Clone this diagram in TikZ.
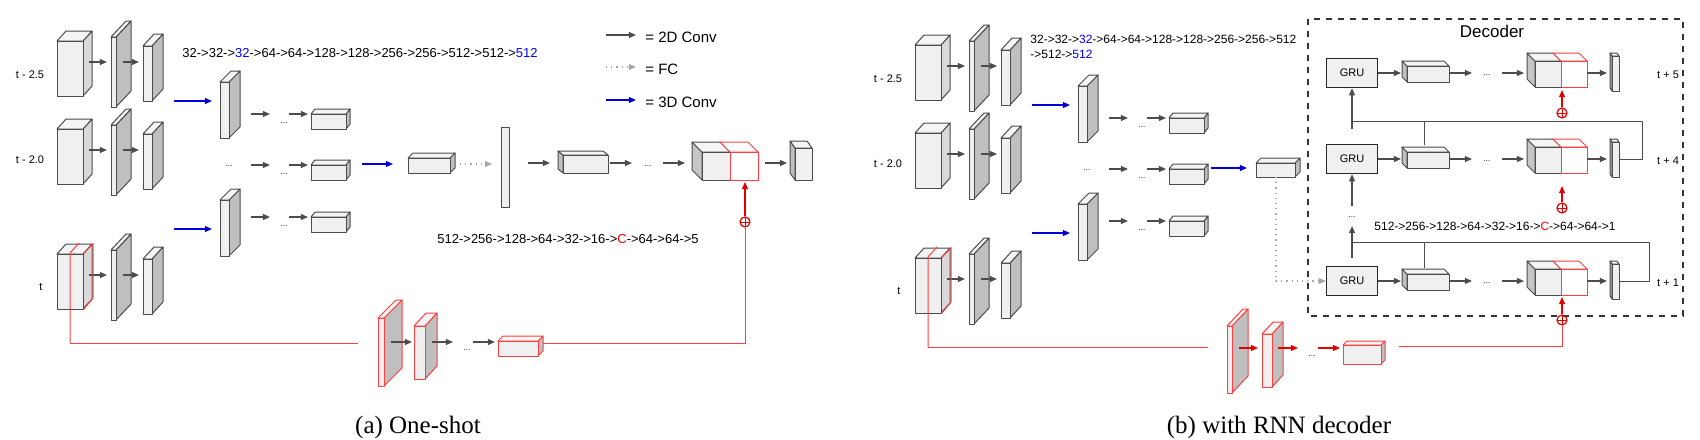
\documentclass[tikz,border=0pt]{standalone}
\usepackage{fontspec}
\setmainfont{Liberation Serif}
\setsansfont{Liberation Sans}
\usetikzlibrary{arrows.meta}
\colorlet{cubefront}{gray!12}
\colorlet{cubetop}{gray!8}
\colorlet{cubeside}{gray!50}
\colorlet{edge}{gray!60!black}
\colorlet{skip}{red!90!black}
\tikzset{
  cube/.style={draw=edge, line width=0.5pt, line join=round},
  red cube/.style={draw=red!75, line width=0.5pt},
  ar/.style={draw=edge, line width=0.6pt, -{Triangle[length=3.6pt,width=3pt]}},
  fc/.style={ar, dotted, draw=gray!70},
  conv3/.style={ar, draw=blue!85!black, -{Triangle[length=3.6pt,width=3pt,fill=blue!85!black]}},
  redar/.style={ar, draw=skip, -{Triangle[length=3.6pt,width=3pt,fill=skip]}},
  redline/.style={draw=red!75, line width=0.5pt},
  txt/.style={font=\sffamily\fontsize{6.5}{7}\selectfont, inner sep=0pt},
  lbl/.style={font=\sffamily\fontsize{5.5}{6}\selectfont, inner sep=0pt},
  dots/.style={font=\sffamily\fontsize{4}{4}\selectfont, inner sep=0pt},
  gru/.style={draw=gray!30!black, fill=gray!12, line width=0.7pt, minimum width=25.5pt,
    minimum height=14.5pt, inner sep=0pt, font=\sffamily\fontsize{5.5}{6}\selectfont},
  plus/.style={circle, draw=skip, line width=0.6pt, minimum size=5pt, inner sep=0pt,
    path picture={\draw[skip, line width=0.5pt] (path picture bounding box.north) -- (path picture bounding box.south)
      (path picture bounding box.west) -- (path picture bounding box.east);}},
}
% cuboid, side face to the right: [style]{x}{y}{w}{h}{dx}{dy}, (x,y) = front top left
\newcommand\cubR[7][]{%
  \draw[cube,#1,fill=cubeside] (#2+#4,#3) -- ++(#6,-#7) -- ++(0,#5) -- ++(-#6,#7) -- cycle;
  \draw[cube,#1,fill=cubetop] (#2,#3) -- ++(#6,-#7) -- ++(#4,0) -- ++(-#6,#7) -- cycle;
  \draw[cube,#1,fill=cubefront] (#2,#3) rectangle ++(#4,#5);}
% cuboid, side face to the left
\newcommand\cubL[7][]{%
  \draw[cube,#1,fill=cubeside] (#2,#3) -- ++(-#6,-#7) -- ++(0,#5) -- ++(#6,#7) -- cycle;
  \draw[cube,#1,fill=cubetop] (#2,#3) -- ++(-#6,-#7) -- ++(#4,0) -- ++(#6,#7) -- cycle;
  \draw[cube,#1,fill=cubefront] (#2,#3) rectangle ++(#4,#5);}
% one input row of the encoder, #1 = vertical offset
\newcommand\encrow[1]{%
  {\colorlet{cubeside}{gray!30}\cubR{57}{41+#1}{26}{55}{9}{10}}
  \cubR{111}{37+#1}{5}{70}{15}{16}
  \cubR{143}{46+#1}{9}{55}{11}{12}
  \draw[ar] (89,62+#1) -- (107,62+#1);
  \draw[ar] (123,62+#1) -- (139,62+#1);}
% small branch row, #1 = y of the arrows
\newcommand\encbranch[1]{%
  \draw[ar] (251,#1) -- (270,#1);
  \draw[ar] (289,#1) -- (308,#1);
  \node[dots] at (284,#1+9) {...};
  \cubR{311}{#1}{35}{15}{4}{5}}
% encoder part common to both panels
\newcommand\encoder{%
  \encrow{0}\encrow{88}\encrow{213}
  \node[lbl] at (30,75) {t - 2.5};
  \node[lbl] at (30,160) {t - 2.0};
  \node[lbl] at (41,287) {t};
  % red marks on the current frame
  \draw[red cube] (84,253) -- (93,244) -- (93,298) -- (84,309);
  \draw[redline] (79,243) -- (70,253) -- (70,343);
  \cubR{220}{82}{9}{56}{11}{11}
  \cubR{220}{200}{9}{56}{11}{11}
  \draw[conv3] (174,101) -- (212,101);
  \draw[conv3] (174,229) -- (212,229);
  \encbranch{114}\encbranch{165}\encbranch{217}
  \node[dots] at (229,166) {...};}
% concatenated block: gray part with left face, red part; #1 = x, #2 = y of front top left, #3 size, #4 depth
\newcommand\concat[4]{%
  {\colorlet{cubeside}{gray!45}\cubL{#1}{#2}{#3}{#3}{#4}{#4}}
  \draw[red cube, fill=white] (#1+#3,#2) -- ++(-#4,-#4) -- ++(#3,0) -- ++(#4,#4) -- cycle;
  \draw[red cube, fill=white] (#1+#3,#2) rectangle ++(#3,#3);}
\begin{document}
\begin{tikzpicture}[x=0.5pt, y=-0.5pt]
\useasboundingbox (0,0) rectangle (1700,439);
%% ---------------- (a) One-shot ----------------
\encoder
\node[txt, anchor=west] at (182,53) {32->32->\textcolor{blue}{32}->64->64->128->128->256->256->512->512->\textcolor{blue}{512}};
% legend
\draw[ar] (606,35) -- (636,35);
\draw[fc] (606,67) -- (636,67);
\draw[conv3] (606,100) -- (636,100);
\node[txt, anchor=west, font=\sffamily\fontsize{7.5}{8}\selectfont] at (645,37) {= 2D Conv};
\node[txt, anchor=west, font=\sffamily\fontsize{7.5}{8}\selectfont] at (645,69) {= FC};
\node[txt, anchor=west, font=\sffamily\fontsize{7.5}{8}\selectfont] at (645,102) {= 3D Conv};
% fusion and head
\draw[conv3] (362,164) -- (393,164);
\cubR{408}{158}{42}{15}{5}{5}
\draw[fc] (460,164) -- (492,164);
\draw[cube, fill=cubefront] (501,127) rectangle (509,207);
\draw[ar] (528,163) -- (550,163);
\cubL{563}{155}{45}{18}{5}{4}
\draw[ar] (610,163) -- (632,163);
\node[dots] at (648,166) {...};
\draw[ar] (663,163) -- (685,163);
\concat{702}{152}{28}{10}
\draw[ar] (765,163) -- (787,163);
\cubL{795}{148}{17}{32}{5}{7}
\node[txt, anchor=west] at (437,239) {512->256->128->64->32->16->\textcolor{red}{C}->64->64->5};
% skip branch
\draw[redline] (70,343) -- (358,343);
\cubR[red cube]{378}{318}{6}{68}{18}{18}
\cubR[red cube]{414}{326}{11}{53}{12}{13}
\draw[ar] (391,342) -- (412,342);
\draw[ar] (432,342) -- (453,342);
\node[dots] at (467,350) {...};
\draw[ar] (473,342) -- (495,342);
\cubR[red cube]{498}{341}{40}{15}{5}{5}
\node[plus] (pa) at (745,222) {};
\draw[redline] (543,343) -- (745,343) -- (pa.south);
\draw[redar] (pa.north) -- (745,182);
\node[font=\fontsize{12.5}{14}\selectfont] at (418,427) {(a) One-shot};
%% ---------------- (b) with RNN decoder ----------------
\begin{scope}[shift={(858,4)}]
\encoder
\end{scope}
\node[txt, anchor=west, font=\sffamily\fontsize{6}{7}\selectfont] at (1030,39) {32->32->\textcolor{blue}{32}->64->64->128->128->256->256->512};
\node[txt, anchor=west, font=\sffamily\fontsize{6}{7}\selectfont] at (1030,54) {->512->\textcolor{blue}{512}};
\draw[conv3] (1211,168) -- (1247,168);
\cubR{1256}{163}{39}{14}{5}{5}
% decoder
\draw[dashed, line width=0.6pt, draw=gray!40!black] (1308,19) rectangle (1683,316);
\node[font=\sffamily\fontsize{8.5}{9}\selectfont] at (1492,31) {Decoder};
\foreach \c/\n/\t in {73/g5/t + 5, 159/g4/t + 4, 281/g1/t + 1}{
  \node[gru] (\n) at (1352,\c) {GRU};
  \draw[ar] (\n.east) -- (1401,\c);
  \cubL{1407}{\c-7}{42}{16}{5}{5}
  \draw[ar] (1449,\c) -- (1472,\c);
  \node[dots] at (1487,\c+2) {...};
  \draw[ar] (1502,\c) -- (1524,\c);
  \concat{1535}{\c-12}{26}{8}
  \draw[ar] (1587,\c) -- (1607,\c);
  \cubL{1612}{\c-17}{7}{35}{2}{3}
  \node[lbl] at (1668,\c+2) {\t};
}
\draw[fc] (1276,177) |- (g1.west);
% recurrent links
\draw[cube] (1619,159) -- (1642,159) -- (1642,121) -- (1352,121);
\draw[cube] (1424,121) -- (1424,145);
\draw[ar] (1352,129) -- (g5.south);
\draw[cube] (1619,281) -- (1649,281) -- (1649,242) -- (1352,242);
\draw[cube] (1424,242) -- (1424,268);
\draw[ar] (1352,258) -- (1352,226);
\node[dots] at (1352,217) {...};
\draw[ar] (1352,206) -- (g4.south);
\node[txt, anchor=west, font=\sffamily\fontsize{6}{7}\selectfont] at (1374,226) {512->256->128->64->32->16->\textcolor{red}{C}->64->64->1};
% skip inputs
\node[plus] (p5) at (1562,113) {};
\draw[redar] (p5.north) -- (1562,90);
\node[plus] (p4) at (1562,208) {};
\draw[redar] (p4.north) -- (1562,186);
\node[plus] (p1) at (1562,320) {};
\draw[redar] (p1.north) -- (1562,297);
% skip branch
\draw[redline] (928,347) -- (1208,347);
\cubR[red cube]{1227}{326}{5}{67}{16}{17}
\cubR[red cube]{1262}{334}{10}{53}{11}{12}
\draw[redar] (1239,348) -- (1258,348);
\draw[redar] (1278,348) -- (1298,348);
\node[dots] at (1312,356) {...};
\draw[redar] (1318,348) -- (1340,348);
\cubR[red cube]{1343}{345}{38}{19}{4}{4}
\draw[redline] (1399,346) -- (1562,346) -- (p1.south);
\node[font=\fontsize{12.5}{14}\selectfont] at (1279,427) {(b) with RNN decoder};
\end{tikzpicture}
\end{document}
